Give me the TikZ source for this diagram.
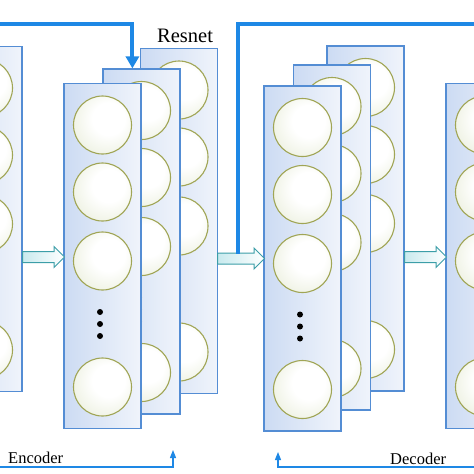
\documentclass[tikz,border=0pt]{standalone}
\usepackage{fontspec}
\setmainfont{Liberation Serif}
\usetikzlibrary{shapes.arrows,arrows.meta}
\definecolor{panelline}{RGB}{84,141,212}
\definecolor{panelleft}{RGB}{204,219,243}
\definecolor{panelright}{RGB}{240,244,251}
\definecolor{unitline}{RGB}{160,165,85}
\definecolor{unitedge}{RGB}{222,229,200}
\definecolor{resblue}{RGB}{30,136,229}
\definecolor{arrowline}{RGB}{60,158,168}
\definecolor{arrowfill}{RGB}{200,234,238}
\pgfdeclareradialshading{unitshade}{\pgfpoint{7bp}{7bp}}{color(0bp)=(white); color(14bp)=(white); color(48bp)=(unitedge); color(60bp)=(unitedge)}
\tikzset{
	layerbox/.style={draw=panelline,line width=1.2pt,left color=panelleft,right color=panelright,minimum width=77pt,minimum height=345pt,inner sep=0pt},
	unit/.style={circle,draw=unitline,line width=1.1pt,shading=unitshade,minimum size=58pt,inner sep=0pt},
	flow/.style={single arrow,draw=arrowline,line width=1pt,left color=arrowfill,right color=white,minimum height=#1,minimum width=20pt,single arrow head extend=5pt,inner sep=5pt,anchor=west},
	resnet/.style={draw=resblue,line width=4pt,-{Triangle[width=13pt,length=12pt]}},
	guide/.style={draw=resblue,line width=1.3pt,-{Triangle[width=6pt,length=8pt]}},
	caption/.style={anchor=base west,inner sep=0pt,font=\fontsize{16.5}{19}\selectfont}
}
\newcommand{\layer}[3]{
	\node[layerbox] (#1) at (#2,#3) {};
	\begin{scope}[shift={(#2,#3)}]
		\foreach \dy [count=\i] in {-131,-64,5,131}
			\node[unit] (#1u\i) at (0,\dy) {};
		\foreach \dy in {56,68,80}
			\fill (-2.5,\dy) circle (3pt);
	\end{scope}
}

\begin{document}
\begin{tikzpicture}[x=1pt,y=-1pt]
	\useasboundingbox (0,0) rectangle (474,474);
	\layer{enc0}{-16.5}{219}
	\layer{enc3}{179}{221}
	\layer{enc2}{141.5}{241.5}
	\layer{enc1}{102.5}{256}
	\layer{dec3}{365.5}{218.5}
	\layer{dec2}{332}{237.5}
	\layer{dec1}{302.5}{258.5}
	\layer{out}{484.5}{256}
	\node[flow=42pt] (a1) at (22,257) {};
	\node[flow=47pt] (a2) at (217,258.5) {};
	\node[flow=42pt] (a3) at (404,257) {};
	\coordinate (rs0) at (-5,24);
	\coordinate (rs1) at (480,24);
	\coordinate (rs2) at ([xshift=21pt,yshift=5pt]a2.west);
	\draw[resnet] (rs0) -| ([xshift=30pt]enc2.north west);
	\draw[resnet,-] (rs2) |- (rs1);
	\node[caption,font=\fontsize{20.5}{24}\selectfont] (resname) at (157,42) {Resnet};
	\coordinate (gl0) at (-5,467);
	\coordinate (gl1) at (173,450);
	\coordinate (gr0) at (480,467);
	\coordinate (gr1) at (278,452);
	\draw[guide] (gl0) -| (gl1);
	\draw[guide] (gr0) -| (gr1);
	\node[caption] (encname) at (8,463) {Encoder};
	\node[caption] (decname) at (390,464) {Decoder};
\end{tikzpicture}
\end{document}
